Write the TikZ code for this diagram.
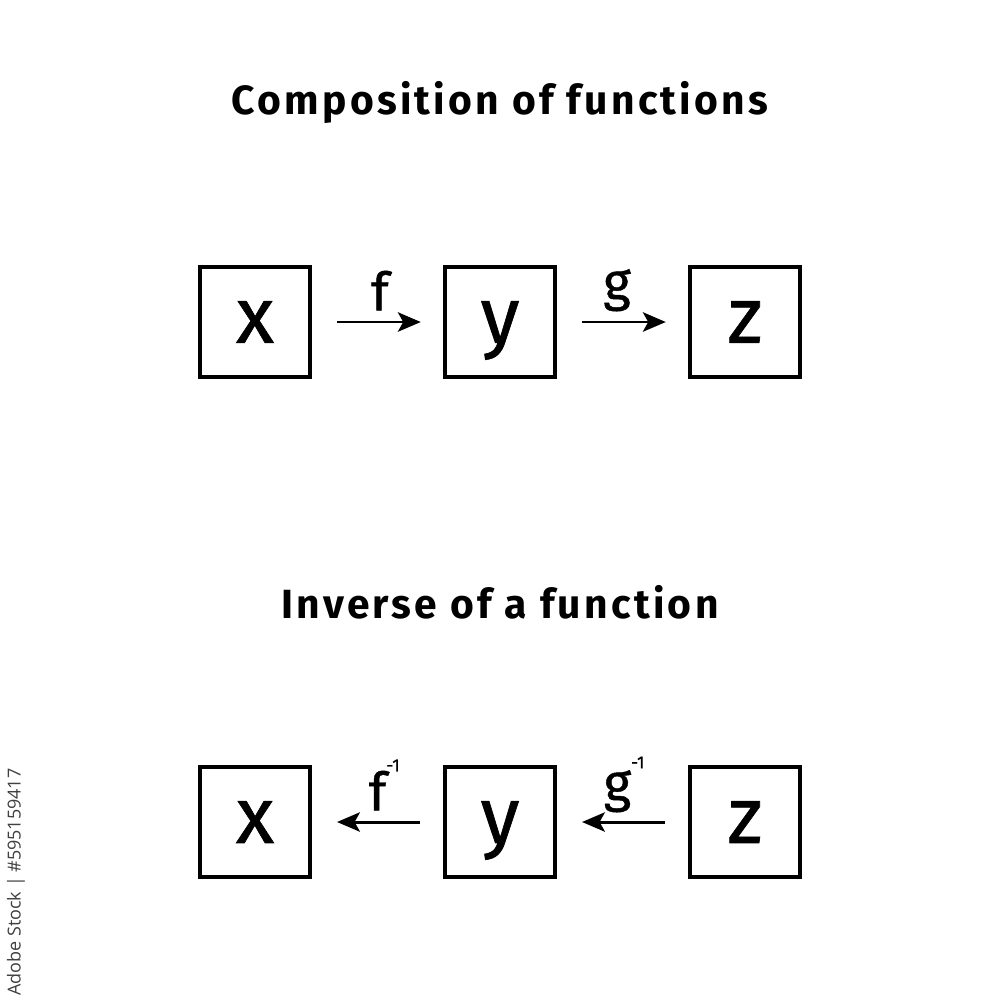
\documentclass[tikz,border=0pt]{standalone}
\usepackage{fontspec}
\setmainfont{Fira Sans}
\newfontfamily\wmfont{Open Sans}
\newfontfamily\medfont[FakeBold=0.8]{Fira Sans}
\newfontfamily\titlefont[LetterSpace=8]{Fira Sans}
\usetikzlibrary{arrows.meta}
\begin{document}
\begin{tikzpicture}[x=0.01cm,y=-0.01cm,
  valbox/.style={draw=black,line width=1.15pt,minimum width=31.5pt,minimum height=31.5pt,inner sep=0pt,text height=11.9pt,text depth=0pt,font=\medfont\fontsize{22.5}{22.5}\selectfont},
  maparrow/.style={line width=0.85pt,-{Stealth[length=6.5pt,width=5.5pt,inset=1.5pt]}},
  nearleft/.style={shorten <=7pt,shorten >=6.2pt},
  nearright/.style={shorten <=6.4pt,shorten >=7pt},
  maplabel/.style={font=\medfont\fontsize{15}{15}\selectfont,inner sep=0pt,anchor=south},
  titletext/.style={font=\titlefont\bfseries\fontsize{11.6}{12}\selectfont,inner sep=0pt}]
\useasboundingbox[fill=white] (0,0) rectangle (1000,1000);
% titles
\node[titletext] (t1) at (500,102) {Composition of functions};
\node[titletext] (t2) at (500,602) {Inverse of a function};
% top row
\node[valbox] (xa) at (255,322) {x};
\node[valbox] (ya) at (500,322) {y};
\node[valbox] (za) at (745,322) {z};
% bottom row
\node[valbox] (xb) at (255,822) {x};
\node[valbox] (yb) at (500,822) {y};
\node[valbox] (zb) at (745,822) {z};
% arrows
\draw[maparrow,nearleft] (xa) -- (ya);
\draw[maparrow,nearleft] (ya) -- (za);
\draw[maparrow,nearright] (yb) -- (xb);
\draw[maparrow,nearright] (zb) -- (yb);
% labels
\node[maplabel] (lf) at (380,311) {f};
\node[maplabel] (lg) at (617,312) {g};
\node[maplabel,anchor=south west] (lfi) at (368,811) {f\raisebox{0.74em}{\fontsize{5}{5}\selectfont -1}};
\node[maplabel,anchor=south west] (lgi) at (603,813) {g\raisebox{0.62em}{\fontsize{5}{5}\selectfont -1}};
% side text
\node[rotate=90,font=\wmfont\fontsize{5.1}{6}\selectfont,text=black!75,inner sep=0pt] (wm) at (16,882) {Adobe Stock | \#595159417};
\end{tikzpicture}
\end{document}
